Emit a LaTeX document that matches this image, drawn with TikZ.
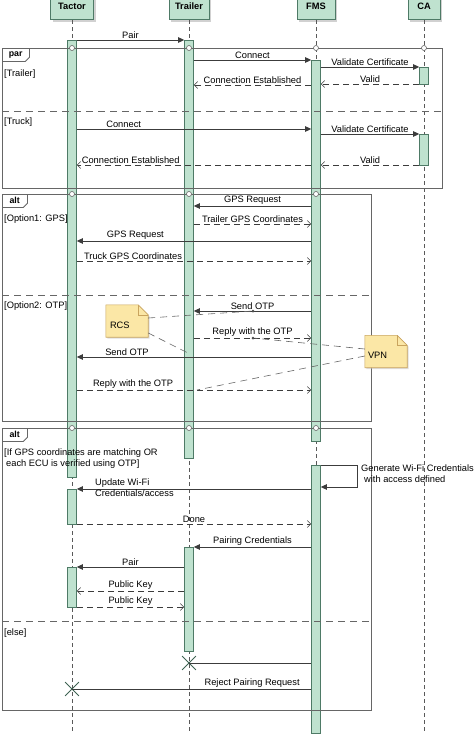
\documentclass[tikz,border=0pt]{standalone}
\usepackage{fontspec}
\setmainfont{Liberation Sans}
\usetikzlibrary{arrows.meta,shadows,shapes.misc}
\definecolor{actfill}{HTML}{BFE2CF}
\definecolor{actline}{HTML}{4E7A66}
\definecolor{notefill}{HTML}{FBE7A6}
\definecolor{noteline}{HTML}{C9A45E}
\definecolor{msgline}{HTML}{3C3C3C}
\begin{document}
\begin{tikzpicture}[x=1pt,y=-1pt,
  font=\fontsize{9.3}{11}\selectfont,
  head/.style={draw=actline,fill=actfill,line width=0.7pt,anchor=south,
    minimum height=26pt,inner xsep=3pt,font=\fontsize{9.3}{10}\selectfont\bfseries,
    drop shadow={shadow xshift=2pt,shadow yshift=-2pt,fill=black!30,opacity=0.6}},
  life/.style={draw=black!65,line width=0.6pt,dash pattern=on 4pt off 3pt},
  actbar/.style={draw=actline,fill=actfill,line width=0.6pt,anchor=north,
    minimum width=9pt,inner sep=0pt},
  frame/.style={draw=black!60,line width=0.8pt},
  sep/.style={draw=black!60,line width=0.8pt,dash pattern=on 7pt off 5pt},
  tab/.style={anchor=north west,minimum width=27pt,minimum height=13pt,inner sep=0pt,
    font=\fontsize{8.8}{10}\selectfont\bfseries},
  guard/.style={anchor=west,inner sep=0pt},
  gate/.style={circle,draw=black!60,fill=white,line width=0.6pt,minimum size=5pt,inner sep=0pt},
  msg/.style={draw=msgline,line width=0.6pt,-{Triangle[length=6pt,width=5.5pt]}},
  reply/.style={draw=msgline,line width=0.6pt,dash pattern=on 6pt off 4pt,
    -{Straight Barb[length=3.5pt,width=7pt]}},
  plain/.style={draw=msgline,line width=0.6pt},
  lbl/.style={above,inner sep=1.5pt},
  notebox/.style={minimum width=42pt,minimum height=32pt,inner sep=0pt},
  note/.style={draw=noteline,fill=notefill,line width=0.6pt},
  link/.style={draw=black!60,line width=0.6pt,dash pattern=on 7pt off 5pt},
  dot/.style={circle,fill=black!70,minimum size=3pt,inner sep=0pt},
  kill/.style={cross out,draw=actline!80!black,line width=0.8pt,minimum size=13pt,inner sep=0pt}]
\useasboundingbox (0,0) rectangle (474,734);
\node[head,minimum width=43pt] (tac) at (72,20) {Tactor};
\node[head,minimum width=40pt] (tra) at (189,20) {Trailer};
\node[head,minimum width=38pt] (fms) at (316,20) {FMS};
\node[head,minimum width=32pt] (ca) at (424,20) {CA};
\foreach \h in {tac,tra,fms,ca}
  \draw[life] (\h) -- (\h |- 0,734);
\foreach \n/\x/\t/\b in {tacA/72/40/477,tacB/72/489/524,tacC/72/567/607,
    traA/189/40/458,traB/189/547/651,fmsA/316/60/441,fmsB/316/465/733,
    caA/424/67/84,caB/424/134/165}
  \node[actbar,minimum height=(\b-\t)*1pt] (\n) at (\x,\t) {};

\draw[frame] (2,48) rectangle (442,188);
\draw[frame] (2,194) rectangle (371,421);
\draw[frame] (2,428) rectangle (371,710);
\draw[sep] (2,111) -- (442,111);
\draw[sep] (2,295) -- (371,295);
\draw[sep] (2,621) -- (371,621);
\node[tab] (parT) at (2,48) {par};
\node[tab,minimum width=25pt] (alt1T) at (2,194) {alt};
\node[tab,minimum width=25pt] (alt2T) at (2,428) {alt};
\foreach \t in {parT,alt1T,alt2T}
  \draw[frame] (\t.north east) -- ([yshift=4pt]\t.south east)
    -- ([xshift=-4pt]\t.south east) -- (\t.south west);
\foreach \x in {72,189,316,424}
  \node[gate] (g\x a) at (\x,48) {};
\foreach \x in {72,189,316} {
  \node[gate] (g\x b) at (\x,194) {};
  \node[gate] (g\x c) at (\x,428) {};
}
\node[guard] (gTrl) at (4,74) {[Trailer]};
\node[guard] (gTrk) at (4,122) {[Truck]};
\node[guard] (gGps) at (4,219) {[Option1: GPS]};
\node[guard] (gOtp) at (4,306) {[Option2: OTP]};
\node[guard,align=left] (gIf) at (4,459) {[If GPS coordinates are matching OR\\\hspace{2pt}each ECU is verified using OTP]};
\node[guard] (gElse) at (4,633) {[else]};

\draw[msg] (tacA.east |- 0,40) -- node[lbl] (m1) {Pair} (traA.west |- 0,40);
\draw[msg] (traA.east |- 0,60) -- node[lbl] (m2) {Connect} (fmsA.west |- 0,60);
\draw[msg] (fmsA.east |- 0,67) -- node[lbl] (m3) {Validate Certificate} (caA.west |- 0,67);
\draw[reply] (fmsA.west |- 0,85) -- node[lbl] (m4) {Connection Established} (traA.east |- 0,85);
\draw[reply] (caA.west |- 0,84) -- node[lbl] (m5) {Valid} (fmsA.east |- 0,84);
\draw[msg] (tacA.east |- 0,129) -- node[lbl,pos=0.2] (m6) {Connect} (fmsA.west |- 0,129);
\draw[msg] (fmsA.east |- 0,134) -- node[lbl] (m7) {Validate Certificate} (caB.west |- 0,134);
\draw[reply] (fmsA.west |- 0,165) -- node[lbl,pos=0.77] (m8) {Connection Established} (tacA.east |- 0,165);
\draw[reply] (caB.west |- 0,165) -- node[lbl] (m9) {Valid} (fmsA.east |- 0,165);
\draw[msg] (fmsA.west |- 0,206) -- node[lbl] (m10) {GPS Request} (traA.east |- 0,206);
\draw[reply] (traA.east |- 0,224) -- node[lbl] (m11) {Trailer GPS Coordinates} (fmsA.west |- 0,224);
\draw[msg] (fmsA.west |- 0,241) -- node[lbl,pos=0.75] (m12) {GPS Request} (tacA.east |- 0,241);
\draw[reply] (tacA.east |- 0,261) -- node[lbl,pos=0.24] (m13) {Truck GPS Coordinates} (fmsA.west |- 0,261);
\draw[msg] (fmsA.west |- 0,311) -- node[lbl] (m14) {Send OTP} (traA.east |- 0,311);
\draw[reply] (traA.east |- 0,338) -- node[lbl] (m15) {Reply with the OTP} (fmsA.west |- 0,338);
\draw[msg] (fmsA.west |- 0,357) -- node[lbl,pos=0.786] (m16) {Send OTP} (tacA.east |- 0,357);
\draw[reply] (tacA.east |- 0,390) -- node[lbl,pos=0.24] (m17) {Reply with the OTP} (fmsA.west |- 0,390);

\draw[msg] (fmsB.east |- 0,465) -| (357,487) -- (fmsB.east |- 0,487);
\node[anchor=north west,align=left,inner sep=0pt] (m18) at (361,465) {Generate Wi-Fi Credentials\\\hspace{3pt}with access defined};
\draw[msg] (fmsB.west |- 0,489) -- node[pos=0.923,anchor=west,align=left,inner sep=0pt,yshift=1pt] (m19) {Update Wi-Fi\\Credentials/access} (tacB.east |- 0,489);
\draw[reply] (tacB.east |- 0,524) -- node[lbl] (m20) {Done} (fmsB.west |- 0,524);
\draw[msg] (fmsB.west |- 0,547) -- node[lbl] (m21) {Pairing Credentials} (traB.east |- 0,547);
\draw[msg] (traB.west |- 0,567) -- node[lbl] (m22) {Pair} (tacC.east |- 0,567);
\draw[reply] (traB.west |- 0,591) -- node[lbl] (m23) {Public Key} (tacC.east |- 0,591);
\draw[reply] (tacC.east |- 0,607) -- node[lbl] (m24) {Public Key} (traB.west |- 0,607);

\node[kill] (xTra) at (189,663) {};
\node[kill] (xTac) at (72,689) {};
\draw[plain] (fmsB.west |- 0,663) -- (xTra.center);
\draw[plain] (fmsB.west |- 0,689) -- node[lbl,pos=0.247] (m25) {Reject Pairing Request} (xTac.center);

\node[dot] (d1) at (253,311) {};
\node[dot] (d2) at (253,338) {};
\coordinate (rcsEnd) at (188,353);
\coordinate (vpnEnd) at (197,390);
\node[notebox] (rcs) at (127,321) {};
\node[notebox] (vpn) at (386,351.5) {};
\foreach \n in {rcs,vpn} {
  \filldraw[note,drop shadow={shadow xshift=1.5pt,shadow yshift=-1.5pt,fill=black!25,opacity=0.5}]
    (\n.north west) -- ([xshift=-10pt]\n.north east) -- ([yshift=-10pt]\n.north east)
    -- (\n.south east) -- (\n.south west) -- cycle;
  \draw[note,fill=none] ([xshift=-10pt]\n.north east) -- ([xshift=-10pt,yshift=-10pt]\n.north east)
    -- ([yshift=-10pt]\n.north east);
}
\node[anchor=west,inner sep=0pt] (rcsT) at ([xshift=4pt,yshift=-4pt]rcs.west) {RCS};
\node[anchor=west,inner sep=0pt] (vpnT) at ([xshift=3pt,yshift=-4pt]vpn.west) {VPN};
\draw[link] ([yshift=3pt]rcs.east) -- (d1);
\draw[link] ([yshift=-12pt]rcs.east) -- (rcsEnd);
\draw[link] ([yshift=2.5pt]vpn.west) -- (d2);
\draw[link] ([yshift=-4.5pt]vpn.west) -- (vpnEnd);
\end{tikzpicture}
\end{document}
